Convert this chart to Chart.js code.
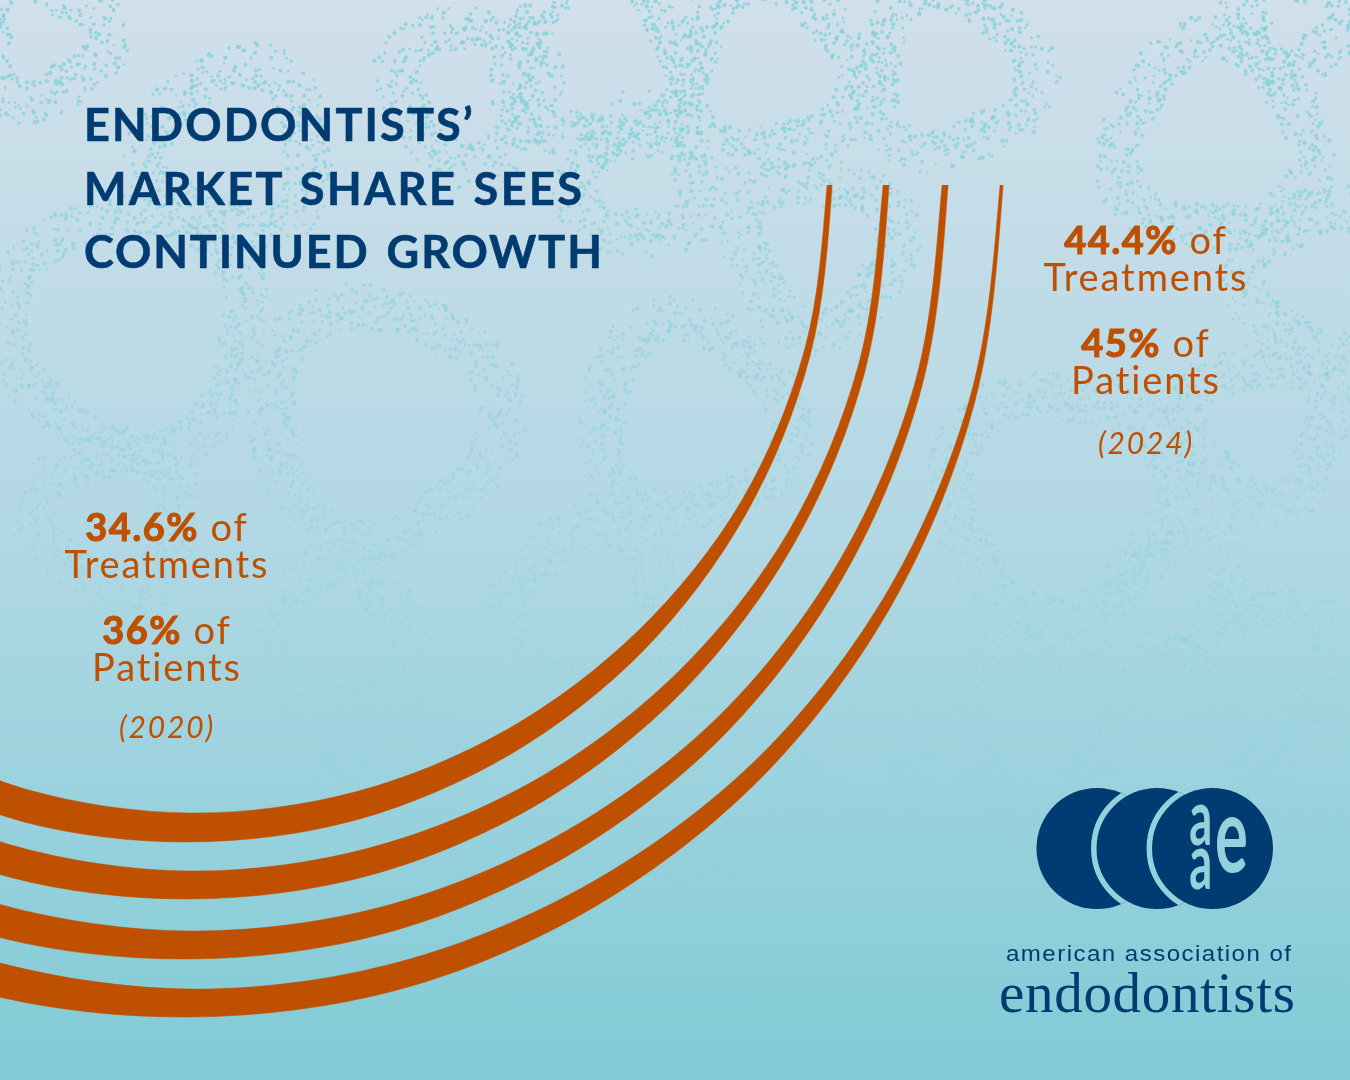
<!DOCTYPE html>
<html>
<head>
<meta charset="utf-8">
<title>Endodontists' market share</title>
<script src="https://cdn.jsdelivr.net/npm/chart.js@4"></script>
<style>
html, body { margin: 0; padding: 0; }
#page { position: relative; width: 1350px; height: 1080px; overflow: hidden;
  background: linear-gradient(180deg, #d1e0eb 0%, #b1d8e4 50%, #80cbd6 100%); }
#myChart { position: absolute; left: 0; top: 0; }
.txt { position: absolute; white-space: nowrap; line-height: 40px; }
.title { left: 84px; font: 700 45px/50px Lato, sans-serif; color: #003b71; -webkit-text-stroke: 0.6px #003b71; }
.stat { width: 300px; text-align: center; font-family: Lato, sans-serif; font-size: 38px; color: #bf5000; letter-spacing: 1.9px; }
.stat b { font-weight: 700; letter-spacing: 1.5px; -webkit-text-stroke: 1.1px #bf5000; }
.year { font-style: italic; font-size: 30px; letter-spacing: 1.8px; }
.logoLetter { font-family: Lato, sans-serif; font-weight: 700; color: #93d2dc; line-height: 1; }
.org1 { left: 1006px; font: 21.5px/26px "Liberation Sans", sans-serif; color: #003b71; letter-spacing: 1.3px; transform-origin: left center; transform: scaleX(1.12); }
.org2 { left: 999px; font: 57px/62px "Liberation Serif", serif; color: #003b71; letter-spacing: 0.7px; }
</style>
</head>
<body>
<div id="page">
  <canvas id="myChart" width="1350" height="1080"></canvas>
</div>
<script>
var titleLines = ["ENDODONTISTS’", "MARKET SHARE SEES", "CONTINUED GROWTH"];

var treatments = ["34.6%", "44.4%"];
var patients = ["36%", "45%"];
var years = ["(2020)", "(2024)"];

// edges of the four bands (they run past the canvas, the chart area clips them)
var band1Upper = [[-131,722],[25,789],[190,813],[355,792],[508,729],[640,629],[742,500],[805,348],[827,186],[833,24]];
var band1Lower = [[-131,758],[24,822],[190,842],[356,820],[511,754],[644,650],[746,514],[810,356],[832,186],[833,24]];
var band2Upper = [[-160,772],[11,845],[190,871],[369,848],[537,779],[680,670],[790,529],[859,363],[883,186],[890,24]];
var band2Lower = [[-160,807],[9,877],[190,899],[371,875],[540,803],[684,690],[795,542],[865,371],[889,186],[890,24]];
var band3Upper = [[-189,824],[-5,903],[190,931],[385,906],[566,831],[722,713],[841,558],[916,379],[942,186],[949,24]];
var band3Lower = [[-189,859],[-6,936],[190,959],[386,933],[569,855],[726,733],[846,572],[922,386],[948,186],[949,24]];
var band4Upper = [[-216,875],[-19,958],[190,989],[399,962],[594,881],[762,754],[890,587],[971,394],[1000,186],[1004,24]];
var band4Lower = [[-216,910],[-21,992],[190,1017],[401,989],[596,906],[765,774],[894,601],[975,401],[1003,186],[1004,24]];

var ORANGE = "#bf5000";
var NAVY = "#003b71";

function edge(pts, fill) {
    return {
        data: pts.map(function (p) { return { x: p[0], y: p[1] }; }),
        showLine: true,
        borderColor: ORANGE,
        borderWidth: 0.5,
        backgroundColor: ORANGE,
        pointRadius: 0,
        tension: 0.33,
        fill: fill,
    };
}

// dotted rings in the background
var rings = [[1215,140,95],[690,420,95],[380,420,115],[820,250,75],[130,330,120],[235,150,80],[600,60,85],
    [770,70,85],[40,40,60],[1060,500,110],[1260,430,70],[1320,280,70],[590,610,80],[340,640,70],
    [700,780,90],[1040,720,80],[1260,670,70],[860,760,60],[1320,760,60],[400,760,60],[950,70,80],[1290,20,50],
    [470,90,70],[110,520,70],[1180,600,60],[640,180,60]];

var dotsPlugin = {
    id: "dots",
    beforeDatasetsDraw: function (chart) {
        var ctx = chart.ctx;
        ctx.save();
        rings.forEach(function (r, k) {
            var n = Math.round(r[2] * 5.5);
            for (var i = 0; i < n; i++) {
                var h = Math.abs(Math.sin((i + 1) * 12.9898 + k * 78.233) * 43758.5453) % 1;
                var h2 = Math.abs(Math.sin((i + 1) * 39.346 + k * 11.135) * 24634.6345) % 1;
                var a = i * 2.39996 + k;
                var rad = r[2] + (h - 0.5) * 48 + Math.sin(a * 3 + k) * 8;
                var x = r[0] + Math.cos(a) * rad;
                var y = r[1] + Math.sin(a) * rad;
                var fade = Math.max(0.14, 0.85 - y / 950);
                ctx.fillStyle = "rgba(133,210,218," + fade + ")";
                ctx.beginPath();
                ctx.arc(x, y, 1.3 + h2 * 0.9, 0, Math.PI * 2);
                ctx.fill();
            }
        });
        ctx.restore();
    },
};

// the logo circles
var logoCircles = [[1097, 60.5], [1157, 60.5], [1212.5, 60.5]];
var logoPlugin = {
    id: "logo",
    afterDatasetsDraw: function (chart) {
        var ctx = chart.ctx;
        var cy = 848.5;
        ctx.save();
        logoCircles.forEach(function (c, i) {
            ctx.fillStyle = NAVY;
            ctx.beginPath();
            ctx.arc(c[0], cy, c[1], 0, Math.PI * 2);
            ctx.fill();
            if (i > 0) {
                ctx.save();
                ctx.beginPath();
                ctx.arc(logoCircles[i - 1][0], cy, logoCircles[i - 1][1], 0, Math.PI * 2);
                ctx.clip();
                ctx.strokeStyle = "#93d2dc";
                ctx.lineWidth = 5.5;
                ctx.beginPath();
                ctx.arc(c[0], cy, c[1] + 2.7, 0, Math.PI * 2);
                ctx.stroke();
                ctx.restore();
            }
        });
        ctx.restore();
    },
};

myChart = new Chart(document.getElementById("myChart"), {
    type: "scatter",
    data: {
        datasets: [
            edge(band1Lower, "+1"), edge(band1Upper, false),
            edge(band2Lower, "+1"), edge(band2Upper, false),
            edge(band3Lower, "+1"), edge(band3Upper, false),
            edge(band4Lower, "+1"), edge(band4Upper, false),
        ],
    },
    options: {
        responsive: false,
        animation: false,
        devicePixelRatio: 1,
        // chart area starts where the bands stop
        layout: { padding: { top: 185 } },
        plugins: { legend: { display: false }, tooltip: { enabled: false }, filler: { propagate: false } },
        scales: {
            x: { type: "linear", min: 0, max: 1350, display: false },
            y: { type: "linear", min: 185, max: 1080, reverse: true, display: false },
        },
    },
    plugins: [dotsPlugin, logoPlugin],
});

// text on top of the canvas
var page = document.getElementById("page");
function addText(cls, html, left, top) {
    var d = document.createElement("div");
    d.className = "txt " + cls;
    d.innerHTML = html;
    if (left !== null) d.style.left = left + "px";
    d.style.top = top + "px";
    page.appendChild(d);
    return d;
}

var titleSpacing = ["2.15px", "2.4px", "1.9px"];
var titleWordGap = ["0", "3px", "4px"];
titleLines.forEach(function (t, i) {
    var d = addText("title", t, null, 99 + i * 63.5);
    d.style.letterSpacing = titleSpacing[i];
    d.style.wordSpacing = titleWordGap[i];
});

[[17, 287, 284], [996, 0, 0]].forEach(function (b, i) {
    addText("stat", "<b>" + treatments[i] + "</b> of", b[0], 219 + b[1]);
    addText("stat", "Treatments", b[0], 256 + b[1]);
    addText("stat", "<b>" + patients[i] + "</b> of", b[0], 322 + b[1]);
    addText("stat", "Patients", b[0], 359 + b[1]);
    addText("stat year", years[i], b[0], 422 + b[2]);
});

function logoLetter(ch, left, top, size, sx) {
    var d = addText("logoLetter", ch, left, top);
    d.style.fontSize = size + "px";
    d.style.transform = "scaleX(" + sx + ")";
}
logoLetter("a", 1181, 776, 78, 0.58);
logoLetter("a", 1181, 820, 78, 0.58);
logoLetter("e", 1203, 778, 106, 0.58);

addText("org1", "american association of", null, 941);
addText("org2", "endodontists", null, 962);
</script>
</body>
</html>
